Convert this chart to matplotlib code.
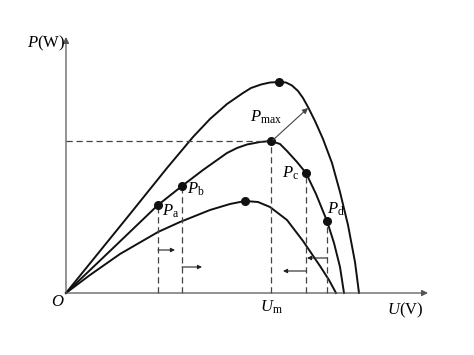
import matplotlib
matplotlib.use("Agg")
import matplotlib.pyplot as plt

plt.rcParams['mathtext.fontset'] = 'custom'
plt.rcParams['mathtext.rm'] = 'Liberation Serif'
plt.rcParams['mathtext.it'] = 'Liberation Serif:italic'
plt.rcParams['font.family'] = ['Liberation Serif', 'DejaVu Serif']

# P-U curves for three irradiance levels (U in V, P in W)
u_top = [0, 3.4, 6.4, 10.1, 12.7, 14.4, 16.1, 17.7, 18.5, 19.5, 20.4, 21.3, 22.0, 22.6, 23.2,
         23.7, 24.2, 24.9, 25.7, 26.6, 27.4, 28.2, 28.9, 29.3]
p_top = [0, 4.2, 7.9, 12.5, 15.6, 17.4, 18.9, 20.0, 20.5, 20.85, 21.05, 21.1, 21.05, 20.75, 20.2,
         19.5, 18.6, 17.2, 15.4, 13.0, 10.1, 6.8, 3.1, 0]

u_mid = [0, 4.4, 6.8, 9.2, 11.6, 13.7, 16.1, 17.1, 18.1, 19.4, 20.5, 21.4, 22.1, 23.1, 24.0,
         25.0, 26.1, 26.8, 27.4, 27.8]
p_mid = [0, 4.2, 6.5, 8.8, 10.7, 12.3, 14.0, 14.5, 14.85, 15.1, 15.2, 14.9, 14.2, 13.1, 12.0,
         9.9, 7.2, 5.0, 2.6, 0]

u_low = [0, 2.4, 5.4, 9.2, 11.4, 14.4, 16.4, 17.9, 19.2, 20.4, 22.1, 23.7, 25.4, 26.3, 27.0]
p_low = [0, 1.8, 3.9, 6.1, 7.1, 8.3, 8.9, 9.2, 9.1, 8.6, 7.3, 5.2, 2.7, 1.3, 0]

# marked points
peaks_u = [21.3, 20.5, 17.9]
peaks_p = [21.1, 15.2, 9.2]
op_names = ['a', 'b', 'c', 'd']
op_u = [9.2, 11.6, 24.0, 26.1]
op_p = [8.8, 10.7, 12.0, 7.2]

# small shift arrows (start U, end U, height P)
shift_u0 = [9.2, 11.6, 24.0, 26.1]
shift_u1 = [10.9, 13.6, 21.7, 24.1]
shift_p = [4.3, 2.6, 2.2, 3.5]

u_m = 20.5
p_m = 15.2

fig = plt.figure(figsize=(4.74, 3.55), dpi=100)
ax = fig.add_axes([0, 0, 1, 1])
ax.set_xlim(-6.6, 40.8)
ax.set_ylim(-6.2, 29.3)
ax.axis('off')

# axes with arrows
ax.annotate('', xy=(36.2, 0), xytext=(0, 0),
            arrowprops=dict(arrowstyle='-|>', color='#555555', lw=0.9,
                            mutation_scale=9, shrinkA=0, shrinkB=0))
ax.annotate('', xy=(0, 25.6), xytext=(0, 0),
            arrowprops=dict(arrowstyle='-|>', color='#555555', lw=0.9,
                            mutation_scale=9, shrinkA=0, shrinkB=0))

lc = '#111111'
ax.plot(u_top, p_top, color=lc, lw=1.4, solid_joinstyle='round')
ax.plot(u_mid, p_mid, color=lc, lw=1.4, solid_joinstyle='round')
ax.plot(u_low, p_low, color=lc, lw=1.4, solid_joinstyle='round')

# dashed guides
dash = dict(color='#444444', lw=0.9, dashes=(5, 3))
ax.plot([0, u_m], [p_m, p_m], **dash)
ax.plot([u_m, u_m], [0, p_m], **dash)
for u, p in zip(op_u, op_p):
    ax.plot([u, u], [0, p], **dash)

ax.plot(peaks_u, peaks_p, 'o', color=lc, ms=5.5)
ax.plot(op_u, op_p, 'o', color=lc, ms=5.5)

for u0, u1, p in zip(shift_u0, shift_u1, shift_p):
    ax.annotate('', xy=(u1, p), xytext=(u0, p),
                arrowprops=dict(arrowstyle='-|>', color='#222222', lw=0.8,
                                mutation_scale=6, shrinkA=0, shrinkB=0))

# P_max arrow
ax.annotate('', xy=(24.2, 18.5), xytext=(20.7, 15.3),
            arrowprops=dict(arrowstyle='-|>', color='#444444', lw=0.8,
                            mutation_scale=8, shrinkA=0, shrinkB=0))

fs = 12
label_pos = {'a': (9.6, 8.2, 'left'), 'b': (12.1, 10.4, 'left'),
             'c': (23.3, 12.0, 'right'), 'd': (26.1, 8.4, 'left')}
for n in op_names:
    x, y, ha = label_pos[n]
    ax.text(x, y, r'$P_{\rm %s}$' % n, fontsize=fs, ha=ha, va='center')

ax.text(18.4, 17.6, r'$P_{\rm max}$', fontsize=fs, ha='left', va='center')
ax.text(u_m, -1.4, r'$U_{\rm m}$', fontsize=fs, ha='center', va='center')
ax.text(-0.8, -0.9, r'$O$', fontsize=fs, ha='center', va='center')
ax.text(33.9, -1.7, r'$U$(V)', fontsize=fs, ha='center', va='center')
ax.text(-2.0, 25.0, r'$P$(W)', fontsize=fs, ha='center', va='center')

fig.savefig('out.png', dpi=100)
